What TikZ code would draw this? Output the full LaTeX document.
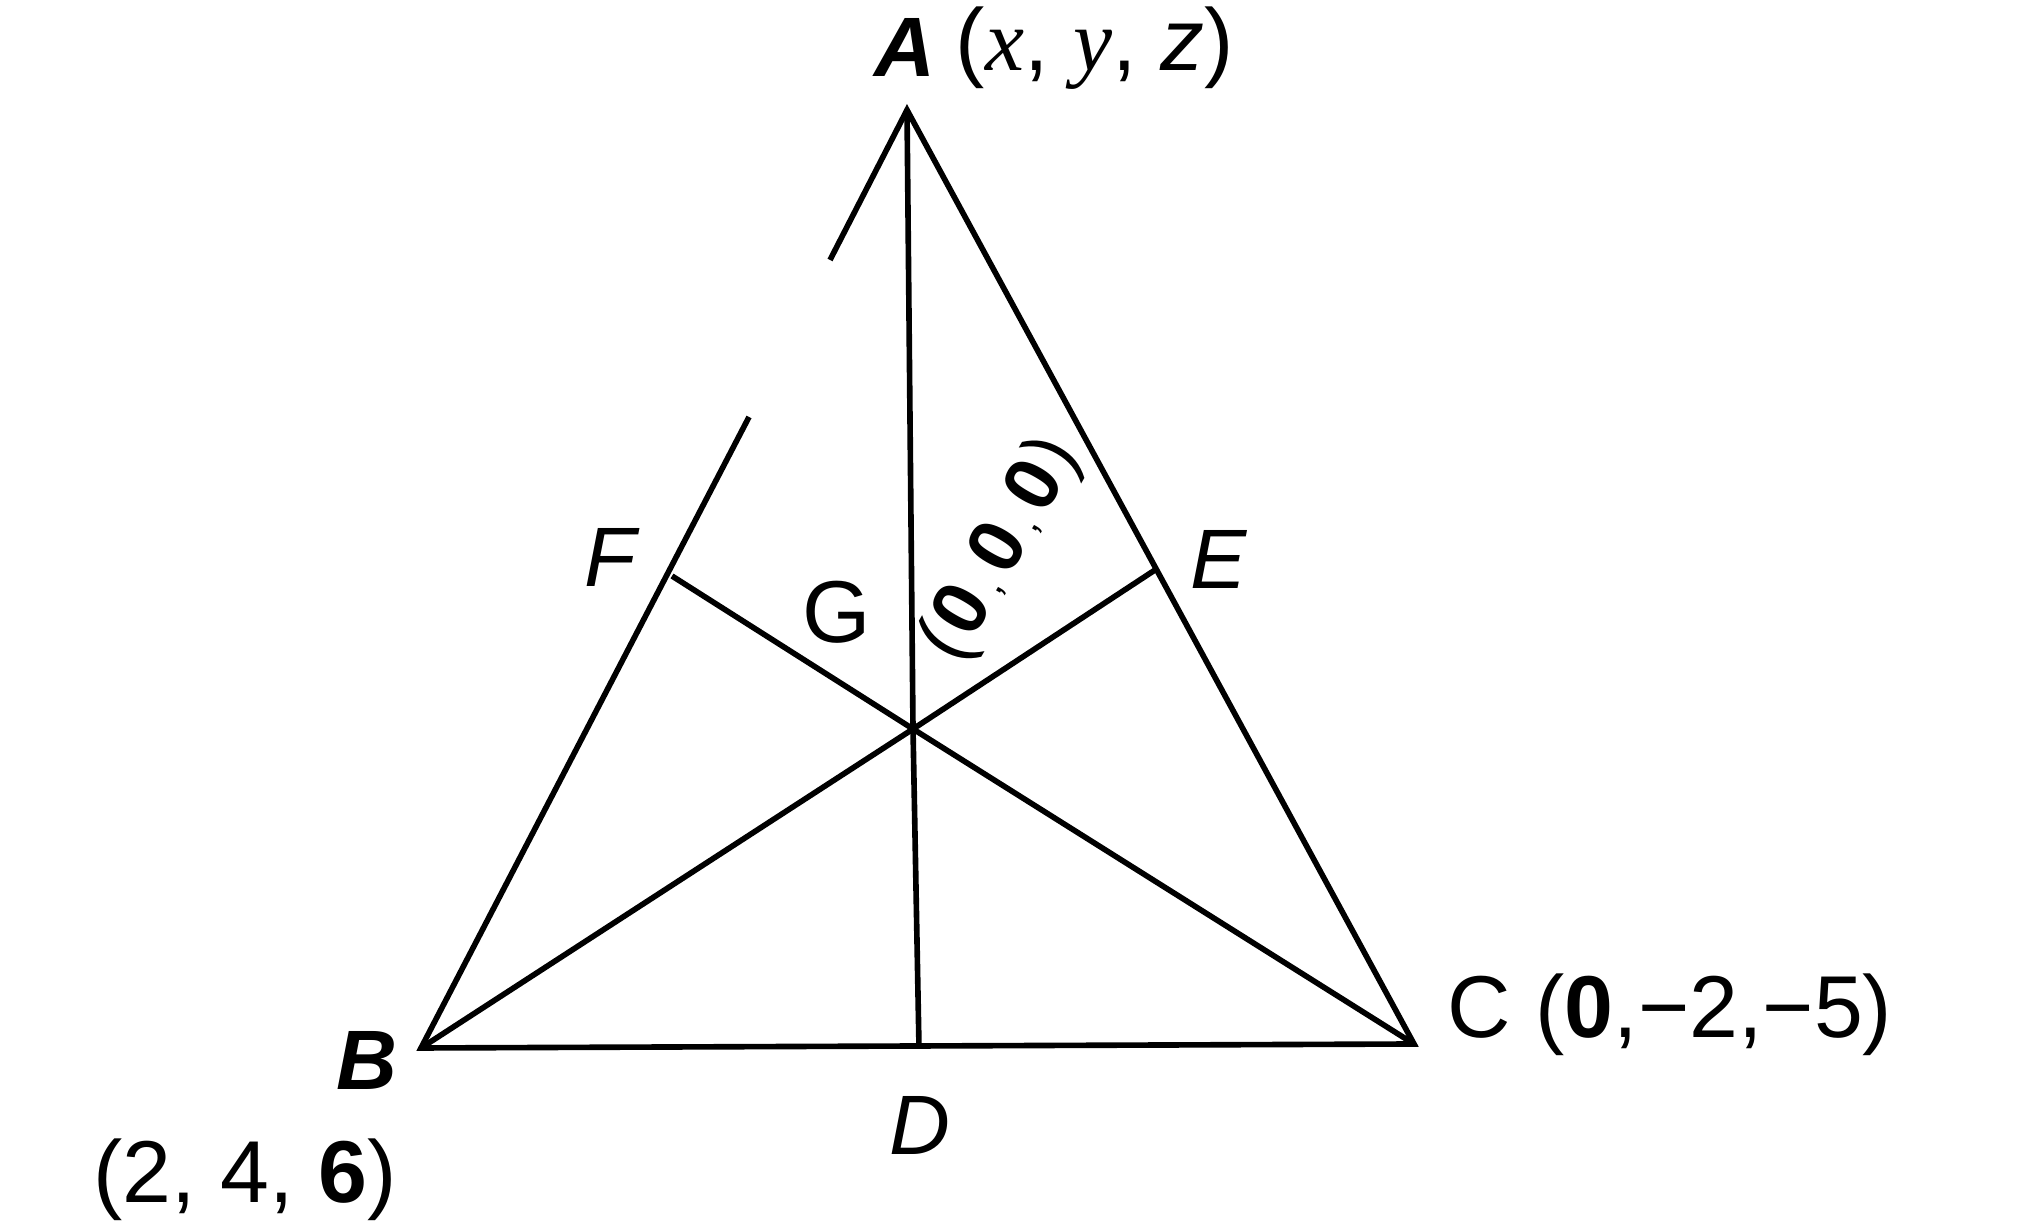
\documentclass[tikz,border=0pt]{standalone}
\usepackage{fontspec}
\setmainfont{Liberation Sans}
\newfontfamily\serifit{Liberation Serif}
\newcommand{\smallcomma}{\kern2.4pt{\fontsize{12}{14}\selectfont,}\kern2.4pt}
\begin{document}
\begin{tikzpicture}[
  seg/.style={line width=1.6pt, line join=miter},
  lbl/.style={inner sep=0pt, font=\fontsize{24}{28}\selectfont\itshape},
  lblup/.style={inner sep=0pt, font=\fontsize{25}{30}\selectfont}
]
\useasboundingbox (0,0) rectangle (20.33,12.22);
% vertices and points
\coordinate (A) at (9.07,11.12);
\coordinate (B) at (4.21,1.74);
\coordinate (C) at (14.14,1.78);
\coordinate (D) at (9.19,1.74);
\coordinate (E) at (11.55,6.52);
\coordinate (F) at (6.72,6.46);
\coordinate (G) at (9.13,4.93);
\coordinate (P1) at (8.30,9.62);
\coordinate (P2) at (7.49,8.05);
% triangle sides (gap in AB as printed)
\draw[seg] (P1) -- (A) -- (C) -- (B) -- (P2);
% medians
\draw[seg] (A) -- (G) -- (D);
\draw[seg] (B) -- (G) -- (E);
\draw[seg] (C) -- (G) -- (F);
% labels
\node[lbl] (lA) at (9.05,11.74) {\bfseries A};
\node[lblup] (lAc) at (10.95,11.74) {({\serifit\itshape x}, {\serifit\itshape y}, \textit{z})};
\node[lbl] (lB) at (3.67,1.62) {\bfseries B};
\node[lblup] (lBc) at (2.45,0.42) {(2, 4, \textbf{6})};
\node[lblup, anchor=west] (lC) at (14.47,2.07) {C (\textbf{0},−2,−5)};
\node[lbl] (lD) at (9.20,0.97) {D};
\node[lbl] (lE) at (12.19,6.62) {E};
\node[lbl] (lF) at (6.10,6.64) {F};
\node[lblup] (lG) at (8.37,6.10) {G};
\node[inner sep=0pt, font=\fontsize{22}{26}\selectfont, rotate=60] (lO) at (10.02,6.72)
  {(\kern1pt\textbf{0}\smallcomma\textbf{0}\smallcomma\textbf{0}\kern1pt)};
\end{tikzpicture}
\end{document}
